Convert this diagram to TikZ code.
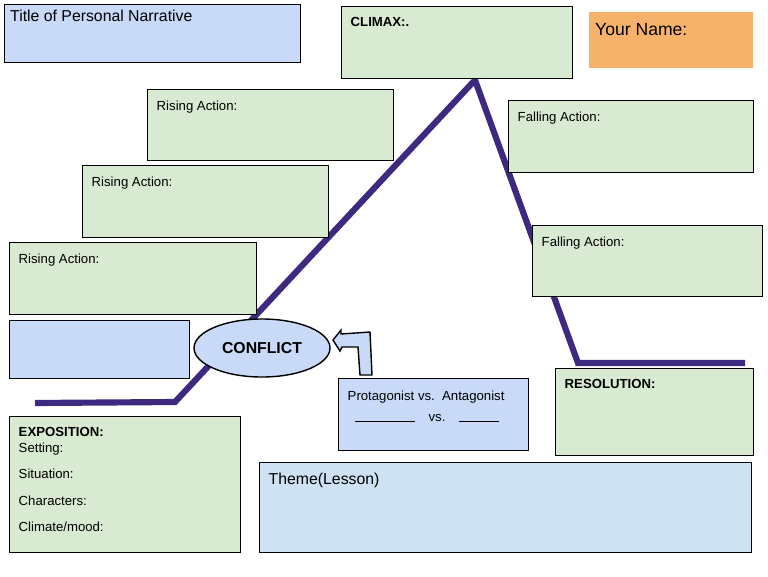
\documentclass[tikz,border=0pt]{standalone}
\usepackage{fontspec}
\setmainfont{Liberation Sans}
\usetikzlibrary{shapes.geometric, positioning}
\definecolor{boxgreen}{HTML}{D9EAD3}
\definecolor{boxblue}{HTML}{C9DAF8}
\definecolor{themeblue}{HTML}{CFE2F3}
\definecolor{namebox}{HTML}{F6B26B}
\definecolor{plotline}{HTML}{3D2A80}
\tikzstyle{greenbox} = [rectangle, draw=black, thick, fill=boxgreen, anchor=north west, inner sep=0pt]
\tikzstyle{bluebox} = [rectangle, draw=black, thick, fill=boxblue, anchor=north west, inner sep=0pt]
\tikzstyle{txt} = [anchor=north west, font=\fontsize{7.5}{9}\selectfont, align=left]

\begin{document}
\begin{tikzpicture}[x=0.02cm, y=-0.02cm]
\useasboundingbox (0,0) rectangle (768,576);

% Plot line
\draw [plotline, line width=3.5pt, line join=miter] (35,403) -- (175,402) -- (475,80) -- (578,363) -- (745,363);

% Boxes
\node (title) [bluebox, minimum width=296*0.02cm, minimum height=58*0.02cm] at (4,4) {};
\node [anchor=north west, font=\small] at (title.north west) {Title of Personal Narrative};
\node (climax) [greenbox, minimum width=231*0.02cm, minimum height=72*0.02cm] at (341,6) {};
\node [txt, font=\bfseries\fontsize{7.5}{9}\selectfont, yshift=-3pt, xshift=2pt] at (climax.north west) {CLIMAX:.};
\node (name) [rectangle, fill=namebox, anchor=north west, minimum width=164*0.02cm, minimum height=56*0.02cm] at (589,12) {};
\node [anchor=north west, yshift=-3pt, font=\normalsize] at (name.north west) {Your Name:};

\node (rise1) [greenbox, minimum width=246*0.02cm, minimum height=71*0.02cm] at (147,89) {};
\node [txt, yshift=-3pt, xshift=2pt] at (rise1.north west) {Rising Action:};
\node (rise2) [greenbox, minimum width=246*0.02cm, minimum height=72*0.02cm] at (82,165) {};
\node [txt, yshift=-3pt, xshift=2pt] at (rise2.north west) {Rising Action:};
\node (rise3) [greenbox, minimum width=247*0.02cm, minimum height=72*0.02cm] at (9,242) {};
\node [txt, yshift=-3pt, xshift=2pt] at (rise3.north west) {Rising Action:};
\node (blank) [bluebox, minimum width=180*0.02cm, minimum height=58*0.02cm] at (9,320) {};

\node (fall1) [greenbox, minimum width=245*0.02cm, minimum height=72*0.02cm] at (508,100) {};
\node [txt, yshift=-3pt, xshift=2pt] at (fall1.north west) {Falling Action:};
\node (fall2) [greenbox, minimum width=230*0.02cm, minimum height=71*0.02cm] at (532,225) {};
\node [txt, yshift=-3pt, xshift=2pt] at (fall2.north west) {Falling Action:};
\node (resol) [greenbox, minimum width=198*0.02cm, minimum height=87*0.02cm] at (555,368) {};
\node [txt, font=\bfseries\fontsize{7.5}{9}\selectfont, yshift=-3pt, xshift=2pt] at (resol.north west) {RESOLUTION:};

\node (expo) [greenbox, minimum width=231*0.02cm, minimum height=136*0.02cm] at (9,416) {};
\node [txt, yshift=-3pt, xshift=2pt] at (expo.north west) {\textbf{EXPOSITION:}\\Setting:\\[6pt]Situation:\\[6pt]Characters:\\[6pt]Climate/mood:};

\node (protag) [bluebox, minimum width=190*0.02cm, minimum height=72*0.02cm] at (338,378) {};
\node [txt, yshift=-4pt, xshift=2pt] at (protag.north west) {Protagonist vs.\ \ Antagonist};
\node [font=\fontsize{7.5}{9}\selectfont] at (427,418) {\rule{1.2cm}{0.4pt}\quad vs.\quad\rule{0.8cm}{0.4pt}};

\node (theme) [rectangle, draw=black, thick, fill=themeblue, anchor=north west, minimum width=492*0.02cm, minimum height=90*0.02cm] at (259,462) {};
\node [anchor=north west, yshift=-3pt, xshift=2pt, font=\small] at (theme.north west) {Theme(Lesson)};

% Conflict
\node (conflict) [ellipse, draw=black, thick, fill=boxblue, minimum width=136*0.02cm, minimum height=58*0.02cm, font=\bfseries\small] at (262,348) {CONFLICT};
\draw [thick, fill=boxblue] (333,340) -- (341,330) -- (341,334) -- (370,332) -- (372,375) -- (360,375) -- (358,347) -- (342,347) -- (340,351) -- cycle;
\end{tikzpicture}
\end{document}
